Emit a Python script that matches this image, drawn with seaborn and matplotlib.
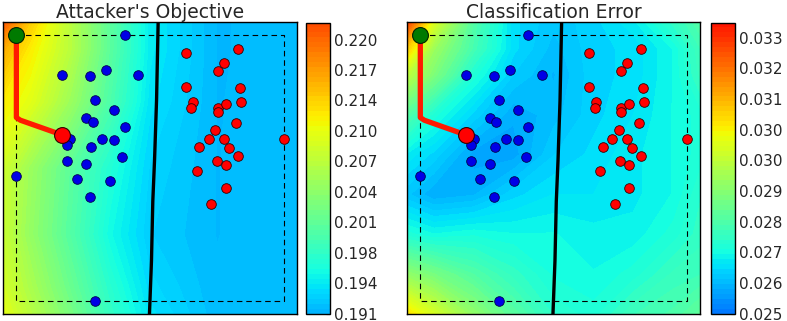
import numpy as np
import matplotlib
matplotlib.use("Agg")
import matplotlib.pyplot as plt
import seaborn as sns
from matplotlib.colors import ListedColormap

sns.set_style("white")
plt.rcParams['font.family'] = ['DejaVu Sans']

# ---------------- data ----------------
titles = ["Attacker's Objective", "Classification Error"]

blue_x = [-0.19, -0.66, -0.45, -0.33, -0.09, -0.41, -0.27, -0.48, -0.43, -0.19,
          -0.60, -0.62, -0.36, -0.27, -0.44, -0.62, -0.48, -0.21, -1.00, -0.55,
          -0.30, -0.45, -0.41]
blue_y = [1.00, 0.70, 0.69, 0.74, 0.70, 0.51, 0.44, 0.38, 0.35, 0.31,
          0.22, 0.17, 0.22, 0.21, 0.16, 0.05, 0.03, 0.08, -0.06, -0.08,
          -0.10, -0.22, -1.00]

red_x = [0.27, 0.66, 0.55, 0.51, 0.27, 0.67, 0.32, 0.31, 0.68, 0.51,
         0.57, 0.51, 0.64, 0.49, 0.44, 0.55, 1.00, 0.37, 0.59, 0.66,
         0.50, 0.57, 0.35, 0.57, 0.46]
red_y = [0.87, 0.90, 0.79, 0.73, 0.61, 0.60, 0.50, 0.45, 0.50, 0.45,
         0.48, 0.42, 0.34, 0.29, 0.22, 0.22, 0.22, 0.16, 0.15, 0.09,
         0.05, 0.02, -0.02, -0.15, -0.27]

start_x, start_y = [-1.0], [1.0]
end_x, end_y = [-0.66], [0.25]
path_x = [-1.0, -1.0, -0.97, -0.66]
path_y = [1.0, 0.38, 0.36, 0.25]

boundary_x = [0.061, 0.049, 0.034, 0.021, 0.011, -0.004]
boundary_y = [1.10, 0.51, 0.06, -0.25, -0.70, -1.10]

box_x = [-1, 1, 1, -1, -1]
box_y = [1, 1, -1, -1, 1]

# Attacker's objective field (rows top -> bottom)
obj_gx = [-1.1, -0.9, -0.6, -0.3, 0.0, 0.5, 1.1]
obj_gy = [1.1, 0.9, 0.5, 0.0, -0.5, -0.9, -1.1]
obj_vals = [
    [0.2210, 0.2140, 0.2070, 0.2005, 0.1945, 0.1917, 0.1918],
    [0.2160, 0.2120, 0.2070, 0.2005, 0.1945, 0.1917, 0.1918],
    [0.2120, 0.2100, 0.2050, 0.1995, 0.1940, 0.1917, 0.1919],
    [0.2085, 0.2050, 0.2005, 0.1965, 0.1932, 0.1917, 0.1921],
    [0.2080, 0.2045, 0.2000, 0.1955, 0.1928, 0.1917, 0.1921],
    [0.2090, 0.2060, 0.2015, 0.1970, 0.1935, 0.1918, 0.1922],
    [0.2100, 0.2070, 0.2025, 0.1978, 0.1940, 0.1919, 0.1922],
]
obj_ticks = [0.1912, 0.1944, 0.1976, 0.2008, 0.2040, 0.2072, 0.2104, 0.2136, 0.2168, 0.2200]
obj_labels = ["0.191", "0.194", "0.198", "0.201", "0.204", "0.207", "0.210", "0.214", "0.217", "0.220"]
obj_range = [0.1912, 0.2218]

# Classification error field (rows top -> bottom)
err_gx = [-1.1, -0.9, -0.6, -0.3, 0.0, 0.3, 0.6, 0.9, 1.1]
err_gy = [1.1, 0.9, 0.7, 0.4, 0.1, -0.2, -0.5, -0.8, -1.1]
err_vals = [
    [0.0330, 0.0300, 0.0278, 0.0264, 0.0261, 0.0263, 0.0266, 0.0273, 0.0278],
    [0.0310, 0.0290, 0.0276, 0.0264, 0.0260, 0.0263, 0.0264, 0.0268, 0.0275],
    [0.0295, 0.0285, 0.0270, 0.0262, 0.0259, 0.0263, 0.0264, 0.0268, 0.0274],
    [0.0278, 0.0270, 0.0263, 0.0258, 0.0260, 0.0263, 0.0265, 0.0268, 0.0270],
    [0.0266, 0.0263, 0.0257, 0.0257, 0.0262, 0.0264, 0.0266, 0.0268, 0.0270],
    [0.0261, 0.0258, 0.0259, 0.0263, 0.0265, 0.0265, 0.0266, 0.0268, 0.0272],
    [0.0270, 0.0268, 0.0269, 0.0268, 0.0268, 0.0267, 0.0267, 0.0270, 0.0273],
    [0.0288, 0.0284, 0.0278, 0.0273, 0.0269, 0.0268, 0.0270, 0.0274, 0.0275],
    [0.0307, 0.0299, 0.0288, 0.0279, 0.0272, 0.0270, 0.0275, 0.0277, 0.0280],
]
err_ticks = [0.02505, 0.02595, 0.02685, 0.02775, 0.02865, 0.02955, 0.03045, 0.03135, 0.03225, 0.03315]
err_labels = ["0.025", "0.026", "0.027", "0.028", "0.029", "0.030", "0.030", "0.031", "0.032", "0.033"]
err_range = [0.02505, 0.0336]

# ---------------- figure ----------------
W, H = 787, 321
fig = plt.figure(figsize=(W / 100, H / 100), dpi=100)

panels = [
    dict(gx=obj_gx, gy=obj_gy, vals=obj_vals, ticks=obj_ticks, labels=obj_labels,
         rng=obj_range, cm=(0.30, 0.83),
         ax_rect=[3, 7, 294, 292], cb_rect=[306, 7.5, 23.5, 291]),
    dict(gx=err_gx, gy=err_gy, vals=err_vals, ticks=err_ticks, labels=err_labels,
         rng=err_range, cm=(0.24, 0.89),
         ax_rect=[407, 7, 293, 292], cb_rect=[710.5, 7.5, 24, 291]),
]

jet = plt.get_cmap('jet')
for title, p in zip(titles, panels):
    x0, y0, w, h = p['ax_rect']
    ax = fig.add_axes([x0 / W, y0 / H, w / W, h / H])
    cx, cy, cw, ch = p['cb_rect']
    cax = fig.add_axes([cx / W, cy / H, cw / W, ch / H])

    cmap = ListedColormap(jet(np.linspace(p['cm'][0], p['cm'][1], 256)))
    levels = np.linspace(p['rng'][0], p['rng'][1], 60)
    Z = np.clip(np.array(p['vals']), p['rng'][0] + 1e-7, p['rng'][1] - 1e-7)
    X, Y = np.meshgrid(p['gx'], p['gy'])
    cs = ax.contourf(X, Y, Z, levels=levels, cmap=cmap, zorder=0)

    ax.plot(box_x, box_y, color='black', lw=0.8, ls=(0, (5, 3.5)), zorder=1)
    sns.lineplot(x=boundary_x, y=boundary_y, sort=False, estimator=None,
                 color='black', lw=2.4, ax=ax, zorder=2)
    sns.scatterplot(x=blue_x, y=blue_y, color='#0000e6', edgecolor='#00004d',
                    s=48, linewidth=0.6, ax=ax, zorder=3)
    sns.scatterplot(x=red_x, y=red_y, color='#ff0000', edgecolor='#330000',
                    s=48, linewidth=0.6, ax=ax, zorder=3)
    sns.lineplot(x=path_x, y=path_y, sort=False, estimator=None,
                 color='#ff1a00', lw=3.8, ax=ax, zorder=4)
    sns.scatterplot(x=start_x, y=start_y, color='#007a00', edgecolor='#002200',
                    s=130, linewidth=0.8, ax=ax, zorder=5)
    sns.scatterplot(x=end_x, y=end_y, color='#ff0000', edgecolor='#330000',
                    s=130, linewidth=0.8, ax=ax, zorder=5)

    ax.set_xlim(-1.1, 1.1)
    ax.set_ylim(-1.1, 1.1)
    ax.set_xticks([])
    ax.set_yticks([])
    ax.set_xlabel('')
    ax.set_ylabel('')
    for s in ax.spines.values():
        s.set_visible(True)
        s.set_color('black')
        s.set_linewidth(1.0)
    ax.set_title(title, fontsize=13.5, pad=3)

    cb = fig.colorbar(cs, cax=cax, ticks=p['ticks'])
    cb.set_ticklabels(p['labels'])
    cb.outline.set_edgecolor('black')
    cb.outline.set_linewidth(1.0)
    cax.tick_params(direction='in', length=3, width=0.8, pad=3, labelsize=11)

fig.savefig('out.png', dpi=100)
